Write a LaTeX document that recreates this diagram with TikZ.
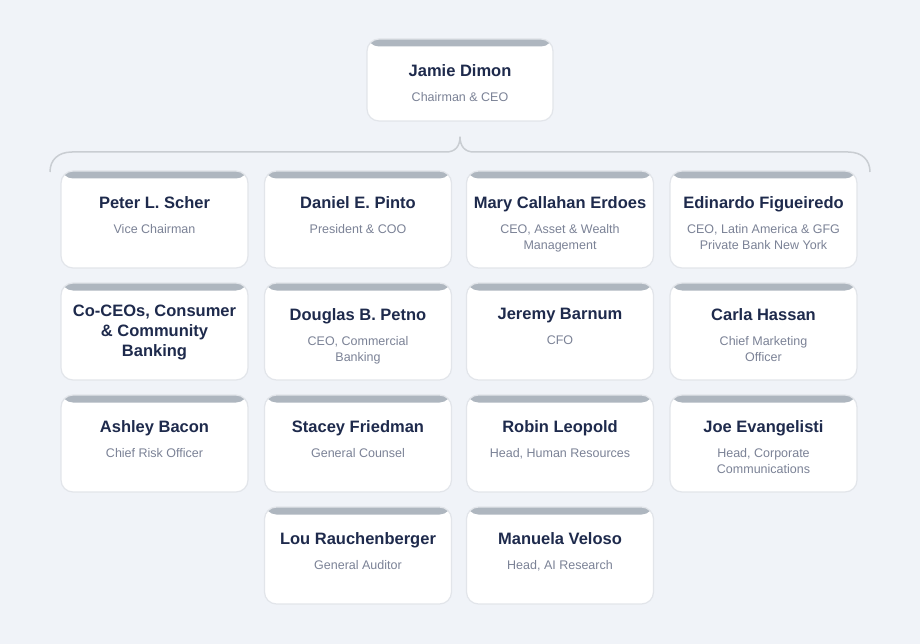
\documentclass[tikz,border=0pt]{standalone}
\usepackage{fontspec}
\setmainfont{Liberation Sans}
\usetikzlibrary{positioning}
\definecolor{paper}{HTML}{F0F3F8}
\definecolor{rim}{HTML}{E2E5EA}
\definecolor{band}{HTML}{AEB6BF}
\definecolor{ink}{HTML}{1E2A4C}
\definecolor{muted}{HTML}{7B8296}
\definecolor{bracegray}{HTML}{C9CDD2}
\tikzset{
  card/.style = {
    draw=rim, line width=1.2pt, fill=white, rounded corners=12pt,
    minimum width=187pt, minimum height=97pt, inner sep=0pt,
    path picture={\fill[band] (path picture bounding box.north west)
      rectangle ([yshift=-7.5pt]path picture bounding box.north east);}
  },
  who/.style = {text=ink, font=\fontsize{16.5}{20}\selectfont\bfseries,
    align=center, inner sep=0pt, anchor=north},
  what/.style = {text=muted, font=\fontsize{12.5}{16}\selectfont,
    align=center, inner sep=0pt, anchor=north}
}
% card: name, centre, person, role
\newcommand\card[4]{%
  \node[card] (#1) at (#2) {};
  \node[who] (#1-n) at ([yshift=-26pt]#1.north) {#3};
  \node[what] (#1-r) at ([yshift=-53.5pt]#1.north) {#4};
}

\begin{document}
\begin{tikzpicture}[x=1pt,y=-1pt]
  \fill[paper] (0,0) rectangle (920,644);
  \useasboundingbox (0,0) rectangle (920,644);
  % top
  \node[card, minimum width=186pt, minimum height=82pt] (ceo) at (460,80) {};
  \node[who] (ceo-n) at ([yshift=-26pt]ceo.north) {Jamie Dimon};
  \node[what] (ceo-r) at ([yshift=-53.5pt]ceo.north) {Chairman \& CEO};
  % brace
  \coordinate (tip) at ([yshift=-15pt]ceo.south);
  \draw[bracegray, line width=1.5pt] (50,172) .. controls (50,160) and (58,152) .. (72,152)
    -- (446,152) .. controls +(9,0) and +(0,10) .. (tip)
    .. controls +(0,10) and +(-9,0) .. (474,152)
    -- (848,152) .. controls (862,152) and (870,160) .. (870,172);
  % row 1
  \card{scher}{154.5,219.5}{Peter L. Scher}{Vice Chairman}
  \card{pinto}{358,219.5}{Daniel E. Pinto}{President \& COO}
  \card{erdoes}{560,219.5}{Mary Callahan Erdoes}{CEO, Asset \& Wealth\\Management}
  \card{figueiredo}{763.5,219.5}{Edinardo Figueiredo}{CEO, Latin America \& GFG\\Private Bank New York}
  % row 2
  \node[card] (ccb) at (154.5,331.5) {};
  \node[who] (ccb-n) at ([yshift=-22pt]ccb.north) {Co-CEOs, Consumer\\\& Community\\Banking};
  \card{petno}{358,331.5}{Douglas B. Petno}{CEO, Commercial\\Banking}
  \card{barnum}{560,331.5}{Jeremy Barnum}{CFO}
  \card{hassan}{763.5,331.5}{Carla Hassan}{Chief Marketing\\Officer}
  % row 3
  \card{bacon}{154.5,443.5}{Ashley Bacon}{Chief Risk Officer}
  \card{friedman}{358,443.5}{Stacey Friedman}{General Counsel}
  \card{leopold}{560,443.5}{Robin Leopold}{Head, Human Resources}
  \card{evangelisti}{763.5,443.5}{Joe Evangelisti}{Head, Corporate\\Communications}
  % row 4
  \card{rauchenberger}{358,555.5}{Lou Rauchenberger}{General Auditor}
  \card{veloso}{560,555.5}{Manuela Veloso}{Head, AI Research}
\end{tikzpicture}
\end{document}
